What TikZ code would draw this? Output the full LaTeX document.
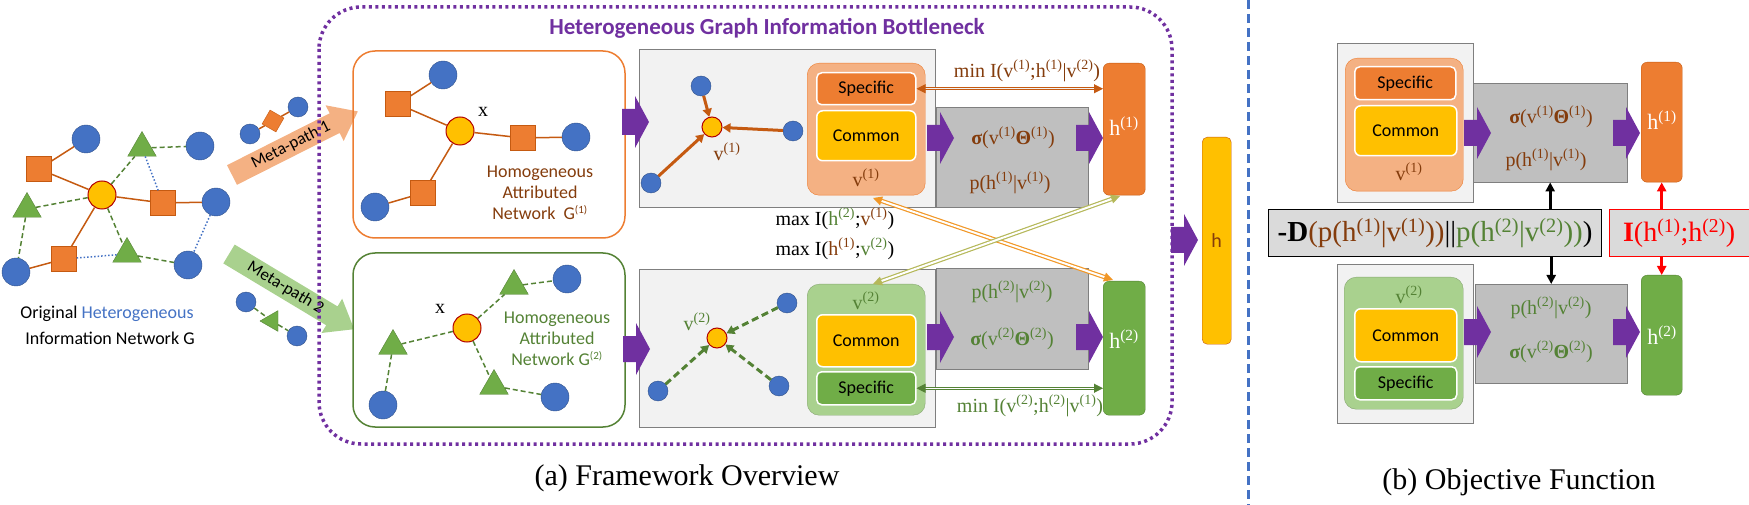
\documentclass[tikz,border=0pt]{standalone}
\usepackage{fontspec}
\setmainfont{Liberation Serif}
\newfontfamily\carl{Carlito}
\usetikzlibrary{shapes.geometric,arrows.meta}
\definecolor{ob}{HTML}{ED7D31}
\definecolor{od}{HTML}{C55A11}
\definecolor{br}{HTML}{843C0C}
\definecolor{gl}{HTML}{70AD47}
\definecolor{gd}{HTML}{548235}
\definecolor{bl}{HTML}{4472C4}
\definecolor{yl}{HTML}{FFC000}
\definecolor{pu}{HTML}{7030A0}
\definecolor{sa}{HTML}{F4B183}
\definecolor{lg}{HTML}{A9D18E}
\definecolor{pg}{HTML}{F2F2F2}
\definecolor{dg}{HTML}{BFBFBF}
\definecolor{bd}{HTML}{7F7F7F}
\definecolor{ol}{HTML}{B5B85A}
\newcommand\sx[1]{\textsuperscript{(#1)}}
\newcommand\parr[2]{\fill[pu] (#1,#2-13)--(#1+13,#2-13)--(#1+13,#2-26)--(#1+27,#2)--(#1+13,#2+26)--(#1+13,#2+13)--(#1,#2+13)--cycle;}
\tikzset{
 bc/.style={circle,fill=bl,draw=bl!70!black,inner sep=0,minimum size=28},
 sbc/.style={circle,fill=bl,draw=bl!70!black,inner sep=0,minimum size=20},
 yc/.style={circle,fill=yl,draw=red!70!black,line width=1,inner sep=0,minimum size=28},
 syc/.style={circle,fill=yl,draw=red!70!black,line width=1,inner sep=0,minimum size=20},
 sq/.style={rectangle,fill=ob,draw=od,inner sep=0,minimum size=25},
 tri/.style={regular polygon,regular polygon sides=3,fill=gl,draw=gd,inner sep=0,minimum size=33},
 oe/.style={od,line width=1.5},
 ge/.style={gd,line width=1.5,dash pattern=on 5pt off 3pt},
 be/.style={bl,line width=1.5,dotted},
 box/.style={draw,anchor=north west,inner sep=0},
 lbl/.style={font=\carl\fontsize{18}{20}\selectfont},
 ser/.style={font=\fontsize{20}{22}\selectfont},
 tip/.style={-{Triangle[length=9pt,width=9pt]}},
 dtip/.style={{Triangle[length=9pt,width=9pt]}-{Triangle[length=9pt,width=9pt]}},
}
\begin{document}
\begin{tikzpicture}[x=1pt,y=-1pt]
\useasboundingbox (0,0) rectangle (1749,505);
% ---------- original graph
\node[bc] (b1) at (86,139) {};
\node[sq] (s1) at (39,169) {};
\node[yc] (c) at (102,195) {};
\node[tri] (t1) at (142,148) {};
\node[bc] (b2) at (200,146) {};
\node[sq] (s2) at (163,203) {};
\node[bc] (b3) at (216,202) {};
\node[tri] (t2) at (27,209) {};
\node[sq] (s3) at (64,259) {};
\node[tri] (t3) at (127,254) {};
\node[bc] (b4) at (188,265) {};
\node[bc] (b5) at (16,272) {};
\draw[oe] (b1)--(s1) (s1)--(c) (c)--(s2) (s2)--(b3) (c)--(s3) (s3)--(b5);
\draw[ge] (c)--(t1) (t1)--(b2) (c)--(t2) (t2)--(b5) (c)--(t3) (t3)--(b4);
\draw[be] (t1)--(s2) (b3)--(b4) (s3)--(t3);
\node[lbl] (ot) at (107,314) {Original \textcolor{bl}{Heterogeneous}};
\node[lbl] (it) at (110,338) {Information Network G};
% ---------- meta-path arrows
\begin{scope}[shift={(232,175)},rotate=26.8]
\fill[sa] (0,-11)--(115,-11)--(115,-20)--(141,0)--(115,20)--(115,11)--(0,11)--cycle;
\node[font=\carl\fontsize{17}{18}\selectfont,rotate=26.8] (mp1) at (66,0) {Meta-path 1};
\end{scope}
\begin{scope}[shift={(229,254)},rotate=-31]
\fill[lg] (0,-11)--(120,-11)--(120,-20)--(146,0)--(120,20)--(120,11)--(0,11)--cycle;
\node[font=\carl\fontsize{17}{18}\selectfont,rotate=-31] (mp2) at (66,0) {Meta-path 2};
\end{scope}
\node[sbc] (m1a) at (250,134) {};
\node[sq,minimum size=16,rotate=-30] (m1s) at (273,121) {};
\node[sbc] (m1b) at (298,107) {};
\draw[oe] (m1a)--(m1s) (m1s)--(m1b);
\node[sbc] (m2a) at (246,302) {};
\node[tri,minimum size=24,shape border rotate=90] (m2t) at (272,321) {};
\node[sbc] (m2b) at (297,336) {};
\draw[ge] (m2a)--(m2t) (m2t)--(m2b);
% ---------- HGIB box
\draw[pu,line width=3.5,dash pattern=on 3pt off 3.5pt,rounded corners=42] (319,7) rectangle (1172,444);
\node[font=\carl\bfseries\fontsize{23}{25}\selectfont,text=pu] (title) at (767,28) {Heterogeneous Graph Information Bottleneck};
% G1
\draw[ob,line width=1.5,rounded corners=22] (353,51) rectangle (625,238);
\node[bc] (g1b1) at (443,75) {};
\node[sq] (g1s1) at (398,104) {};
\node[yc] (g1c) at (460,131) {};
\node[sq] (g1s2) at (523,138) {};
\node[bc] (g1b2) at (576,137) {};
\node[sq] (g1s3) at (423,193) {};
\node[bc] (g1b3) at (375,207) {};
\draw[oe] (g1b1)--(g1s1) (g1s1)--(g1c) (g1c)--(g1s2) (g1s2)--(g1b2) (g1c)--(g1s3) (g1s3)--(g1b3);
\node[ser] (x1) at (483,112) {x};
\node[lbl,text=br,align=center] (g1t) at (540,193) {Homogeneous\\[1pt]Attributed\\[1pt]Network\ \ G\textsuperscript{\fontsize{11}{11}\selectfont(1)}};
% G2
\draw[gd,line width=1.5,rounded corners=22] (353,253) rectangle (625,427);
\node[yc] (g2c) at (467,328) {};
\node[tri] (g2t1) at (514,286) {};
\node[bc] (g2b1) at (567,279) {};
\node[tri] (g2t2) at (393,346) {};
\node[bc] (g2b2) at (383,405) {};
\node[tri] (g2t3) at (494,386) {};
\node[bc] (g2b3) at (555,397) {};
\draw[ge] (g2c)--(g2t1) (g2t1)--(g2b1) (g2c)--(g2t2) (g2t2)--(g2b2) (g2c)--(g2t3) (g2t3)--(g2b3);
\node[ser] (x2) at (440,309) {x};
\node[lbl,text=gd,align=center] (g2t) at (557,339) {Homogeneous\\[1pt]Attributed\\[1pt]Network G\textsuperscript{\fontsize{11}{11}\selectfont(2)}};
% panels
\node[box,fill=pg,draw=bd,minimum width=296,minimum height=158] (p1) at (639,49) {};
\node[box,fill=pg,draw=bd,minimum width=296,minimum height=158] (p2) at (639,269) {};
\node[box,fill=dg,draw=bd,minimum width=152,minimum height=100] (d1) at (936,107) {};
\node[box,fill=dg,draw=bd,minimum width=152,minimum height=101] (d2) at (936,268) {};
\parr{622}{122}
\parr{623}{349}
% panel1 graph
\node[sbc] (p1a) at (701,86) {};
\node[sbc] (p1b) at (793,131) {};
\node[sbc] (p1c) at (651,183) {};
\node[syc] (p1y) at (712,127) {};
\draw[od,line width=3,-{Triangle[length=8pt,width=9pt]}] (p1a)--(p1y);
\draw[od,line width=3,-{Triangle[length=8pt,width=9pt]}] (p1b)--(p1y);
\draw[od,line width=3,-{Triangle[length=8pt,width=9pt]}] (p1c)--(p1y);
\node[ser,text=br] (p1l) at (727,152) {v\sx1};
% panel2 graph
\node[sbc] (p2a) at (787,303) {};
\node[sbc] (p2b) at (779,386) {};
\node[sbc] (p2c) at (658,391) {};
\node[syc] (p2y) at (717,338) {};
\draw[gd,line width=3,dash pattern=on 7pt off 4pt,-{Triangle[length=8pt,width=9pt]}] (p2a)--(p2y);
\draw[gd,line width=3,dash pattern=on 7pt off 4pt,-{Triangle[length=8pt,width=9pt]}] (p2b)--(p2y);
\draw[gd,line width=3,dash pattern=on 7pt off 4pt,-{Triangle[length=8pt,width=9pt]}] (p2c)--(p2y);
\node[ser,text=gd] (p2l) at (697,322) {v\sx2};
% v boxes
\node[box,fill=sa,draw=ob,rounded corners=12,minimum width=118,minimum height=132] (v1) at (807,63) {};
\node[box,fill=ob,draw=white,line width=1.5,rounded corners=5,minimum width=99,minimum height=32] (sp1) at (816,72) {};
\node[lbl] at (sp1.center) {Specific};
\node[box,fill=yl,draw=white,line width=1.5,rounded corners=6,minimum width=99,minimum height=50] (cm1) at (816,110) {};
\node[lbl] at (cm1.center) {Common};
\node[ser,text=br] (v1l) at (866,178) {v\sx1};
\node[box,fill=lg,draw=lg!80!black,rounded corners=12,minimum width=118,minimum height=131] (v2) at (807,284) {};
\node[ser,text=gd] (v2l) at (866,301) {v\sx2};
\node[box,fill=yl,draw=white,line width=1.5,rounded corners=6,minimum width=99,minimum height=52] (cm2) at (816,314) {};
\node[lbl] at (cm2.center) {Common};
\node[box,fill=gl,draw=white,line width=1.5,rounded corners=5,minimum width=99,minimum height=33] (sp2) at (816,371) {};
\node[lbl] at (sp2.center) {Specific};
\parr{927}{138}
\parr{1076}{138}
\parr{927}{337}
\parr{1076}{337}
\node[ser,text=br] (f1) at (1013,138) {\textbf{σ}(v\sx1\textbf{Θ}\sx1)};
\node[ser,text=br] (q1) at (1010,183) {p(h\sx1|v\sx1)};
\node[ser,text=gd] (q2) at (1012,292) {p(h\sx2|v\sx2)};
\node[ser,text=gd] (f2) at (1012,339) {\textbf{σ}(v\sx2\textbf{Θ}\sx2)};
% h boxes
\node[box,fill=ob,draw=od,rounded corners=6,minimum width=42,minimum height=132] (h1) at (1103,63) {};
\node[font=\fontsize{22}{24}\selectfont,text=white] at (1124,126) {h\sx1};
\node[box,fill=gl,draw=gd,rounded corners=6,minimum width=42,minimum height=134] (h2) at (1103,281) {};
\node[font=\fontsize{22}{24}\selectfont,text=white] at (1124,339) {h\sx2};
\parr{1171}{240}
\node[box,fill=yl,draw=od,rounded corners=5,minimum width=29,minimum height=207] (h) at (1202,137) {};
\node[font=\carl\fontsize{20}{22}\selectfont,text=br] at (h.center) {h};
% double arrows
\draw[od,double=pg,double distance=1.5pt,line width=1,dtip] (sp1.east) -- (h1.west |- sp1.east);
\node[ser,text=br] (mi1) at (1027,71) {min I(v\sx1;h\sx1|v\sx2)};
\draw[gd,double=white,double distance=1.5pt,line width=1,dtip] (sp2.east) -- (h2.west |- sp2.east);
\node[ser,text=gd] (mi2) at (1030,406) {min I(v\sx2;h\sx2|v\sx1)};
\coordinate (c1) at (873,198);
\coordinate (c2) at (1113,280);
\coordinate (c3) at (873,284);
\coordinate (c4) at (1120,196);
\draw[ob!80!yellow,double=white,double distance=2pt,line width=1.2,dtip] (c1) -- (c2);
\draw[ol,double=white,double distance=2pt,line width=1.2,dtip] (c3) -- (c4);
\node[ser,anchor=west] (mx1) at (772,219) {max I(\textcolor{gd}{h\sx2};\textcolor{br}{v\sx1})};
\node[ser,anchor=west] (mx2) at (772,249) {max I(\textcolor{br}{h\sx1};\textcolor{gd}{v\sx2})};
\node[font=\fontsize{30}{32}\selectfont] (ca) at (687,478) {(a) Framework Overview};
% separator
\draw[bl,line width=3,dash pattern=on 9pt off 5pt] (1248,0) -- (1248,505);
% ---------- right part
\node[box,fill=pg,draw=bd,minimum width=136,minimum height=159] (rp1) at (1337,43) {};
\node[box,fill=pg,draw=bd,minimum width=136,minimum height=159] (rp2) at (1337,264) {};
\node[box,fill=dg,draw=bd,minimum width=154,minimum height=99] (rd1) at (1473,83) {};
\node[box,fill=dg,draw=bd,minimum width=152,minimum height=99] (rd2) at (1475,284) {};
\node[box,fill=sa,draw=ob,rounded corners=12,minimum width=118,minimum height=133] (rv1) at (1345,58) {};
\node[box,fill=ob,draw=white,line width=1.5,rounded corners=5,minimum width=101,minimum height=33] (rs1) at (1354,66) {};
\node[lbl] at (rs1.center) {Specific};
\node[box,fill=yl,draw=white,line width=1.5,rounded corners=6,minimum width=102,minimum height=50] (rc1) at (1354,105) {};
\node[lbl] at (rc1.center) {Common};
\node[ser,text=br] at (1409,172) {v\sx1};
\node[box,fill=lg,draw=lg!80!black,rounded corners=12,minimum width=119,minimum height=132] (rv2) at (1344,277) {};
\node[ser,text=gd] at (1409,295) {v\sx2};
\node[box,fill=yl,draw=white,line width=1.5,rounded corners=6,minimum width=102,minimum height=53] (rc2) at (1354,308) {};
\node[lbl] at (rc2.center) {Common};
\node[box,fill=gl,draw=white,line width=1.5,rounded corners=5,minimum width=102,minimum height=33] (rs2) at (1354,366) {};
\node[lbl] at (rs2.center) {Specific};
\parr{1464}{133}
\parr{1613}{133}
\parr{1464}{332}
\parr{1613}{332}
\node[ser,text=br] at (1551,117) {\textbf{σ}(v\sx1\textbf{Θ}\sx1)};
\node[ser,text=br] at (1546,160) {p(h\sx1|v\sx1)};
\node[ser,text=gd] at (1551,308) {p(h\sx2|v\sx2)};
\node[ser,text=gd] at (1551,352) {\textbf{σ}(v\sx2\textbf{Θ}\sx2)};
\node[box,fill=ob,draw=od,rounded corners=6,minimum width=41,minimum height=120] (rh1) at (1641,62) {};
\node[font=\fontsize{22}{24}\selectfont,text=white] at (1662,120) {h\sx1};
\node[box,fill=gl,draw=gd,rounded corners=6,minimum width=41,minimum height=120] (rh2) at (1641,275) {};
\node[font=\fontsize{22}{24}\selectfont,text=white] at (1662,335) {h\sx2};
\node[box,fill=pg!90!black,draw=black,line width=1.2,minimum width=333,minimum height=47] (D) at (1268,209) {};
\node[font=\fontsize{29}{31}\selectfont] at (D.center) {\textbf{-D}\textcolor{br}{(p(h\sx1|v\sx1))}||\textcolor{gd}{p(h\sx2|v\sx2))})};
\node[box,fill=pg!90!black,draw=red,line width=1.2,minimum width=140,minimum height=47] (I) at (1608.5,209) {};
\node[font=\fontsize{28}{30}\selectfont,text=red] at (I.center) {\textbf{I}(h\sx1;h\sx2)};
\draw[black,line width=3,tip] (D.north -| rd1.south) -- (rd1.south);
\draw[black,line width=3,tip] (D.south -| rd2.north) -- (rd2.north);
\draw[red,line width=3,tip] (I.north -| rh1.south) -- (rh1.south);
\draw[red,line width=3,tip] (I.south -| rh2.north) -- (rh2.north);
\node[font=\fontsize{30}{32}\selectfont] (cb) at (1519,482) {(b) Objective Function};
\end{tikzpicture}
\end{document}
